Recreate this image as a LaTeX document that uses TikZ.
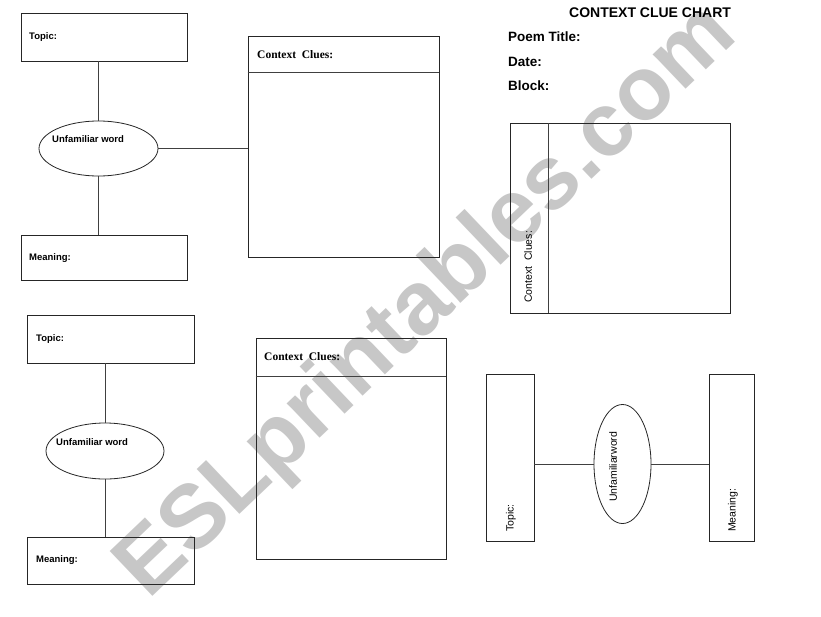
\documentclass[tikz,border=0pt]{standalone}
\usepackage{fontspec}
\setmainfont{Liberation Sans}
\newfontfamily\ccserif{Liberation Serif}
\usetikzlibrary{shapes.geometric,calc}
\tikzset{
  box/.style={draw=black!85, line width=0.8pt, rectangle, inner sep=0pt},
  oval/.style={draw=black!85, line width=0.8pt, ellipse, inner sep=0pt},
  link/.style={draw=black!75, line width=0.8pt},
  lbl/.style={font=\bfseries\fontsize{9.5}{11}\selectfont, inner sep=0pt, anchor=west},
  vlbl/.style={font=\fontsize{10.5}{12}\selectfont, rotate=90, anchor=west, inner sep=0pt},
  head/.style={font=\ccserif\bfseries\fontsize{11.5}{13}\selectfont, anchor=west, inner sep=0pt},
  ttl/.style={font=\bfseries\fontsize{14}{16}\selectfont, anchor=west, inner sep=0pt},
  info/.style={font=\bfseries\fontsize{13.5}{16}\selectfont, anchor=west, inner sep=0pt},
  wmark/.style={font=\bfseries\fontsize{90}{100}\selectfont, text=black!22, inner sep=0pt}
}
\begin{document}
\begin{tikzpicture}[x=1pt,y=-1pt]
\useasboundingbox (0,0) rectangle (821,616);
\fill[white] (0,0) rectangle (821,616);

% watermark
\node[wmark, rotate=43.6] (wm) at (428,303) {ESLprintables.com};

% ---------- top-left group ----------
\node[box, minimum width=166pt, minimum height=48pt] (t1) at (104,37) {};
\node[lbl] (t1l) at (29,37) {Topic:};
\node[oval, minimum width=119pt, minimum height=55pt] (e1) at (98.5,148.5) {};
\node[lbl] (e1l) at (52,139) {Unfamiliar word};
\node[box, minimum width=166pt, minimum height=45pt] (m1) at (104,257.5) {};
\node[lbl] (m1l) at (29,258) {Meaning:};
\node[box, minimum width=191pt, minimum height=221pt] (c1) at (343.5,146.5) {};
\draw[link] ($(c1.north west)+(0,37)$) -- ($(c1.north east)+(0,37)$);
\node[head] (c1l) at (257,55) {Context\ \ Clues:};
\draw[link] (e1.north) -- (e1.north |- t1.south);
\draw[link] (e1.south) -- (e1.south |- m1.north);
\draw[link] (e1.east) -- (e1.east -| c1.west);

% ---------- title block ----------
\node[ttl] (title) at (569,13) {CONTEXT CLUE CHART};
\node[info] (poem) at (508,37) {Poem Title:};
\node[info] (date) at (508,62) {Date:};
\node[info] (block) at (508,86) {Block:};

% ---------- right box ----------
\node[box, minimum width=220pt, minimum height=190pt] (c3) at (620,218) {};
\coordinate (c3d) at (548,123);
\draw[link] (c3d) -- (c3d |- c3.south);
\node[vlbl] (c3l) at (528,303) {Context\ \ Clues:};

% ---------- bottom-left group ----------
\node[box, minimum width=167pt, minimum height=48pt] (t2) at (110.5,339) {};
\node[lbl] (t2l) at (36,339) {Topic:};
\node[oval, minimum width=118pt, minimum height=56pt] (e2) at (105,451) {};
\node[lbl] (e2l) at (56,442) {Unfamiliar word};
\node[box, minimum width=167pt, minimum height=47pt] (m2) at (110.5,560.5) {};
\node[lbl] (m2l) at (36,560) {Meaning:};
\node[box, minimum width=190pt, minimum height=221pt] (c2) at (351,449) {};
\draw[link] ($(c2.north west)+(0,38)$) -- ($(c2.north east)+(0,38)$);
\node[head] (c2l) at (264,357) {Context\ \ Clues:};
\draw[link] (e2.north) -- (e2.north |- t2.south);
\draw[link] (e2.south) -- (e2.south |- m2.north);

% ---------- bottom-right group ----------
\node[box, minimum width=48pt, minimum height=167pt] (t3) at (510,457.5) {};
\node[vlbl] (t3l) at (511,532) {Topic:};
\node[oval, minimum width=57pt, minimum height=119pt] (e3) at (622.5,464) {};
\node[vlbl] (e3l) at (613,502) {Unfamiliarword};
\node[box, minimum width=45pt, minimum height=167pt] (m3) at (731.5,457.5) {};
\node[vlbl] (m3l) at (733,532) {Meaning:};
\draw[link] (e3.west) -- (e3.west -| t3.east);
\draw[link] (e3.east) -- (e3.east -| m3.west);
\end{tikzpicture}
\end{document}
